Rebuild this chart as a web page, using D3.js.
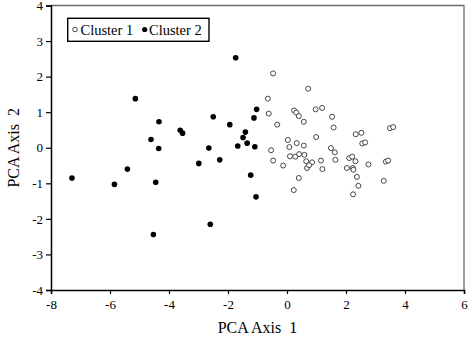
<!DOCTYPE html>
<html>
<head>
<meta charset="utf-8">
<script src="https://cdn.jsdelivr.net/npm/d3@7/dist/d3.min.js"></script>
<style>
  html, body { margin: 0; padding: 0; background: #fff; }
  svg { display: block; }
  text { font-family: "Liberation Serif", "Times New Roman", serif; fill: #000; }
</style>
</head>
<body>
<svg id="chart" width="474" height="348"></svg>
<script>
// PCA scores: [axis 1, axis 2]
const cluster1 = [
  [-0.47, 2.09], [0.72, 1.66], [-0.65, 1.38], [-0.62, 0.96], [-0.33, 0.65],
  [0.24, 1.05], [0.31, 0.99], [0.40, 0.89], [0.57, 0.73], [0.97, 1.08],
  [1.19, 1.12], [1.53, 0.87], [1.58, 0.57], [2.33, 0.38], [2.52, 0.42],
  [3.49, 0.55], [3.60, 0.58], [0.03, 0.22], [0.33, 0.13], [0.57, 0.06],
  [0.99, 0.30], [0.08, 0.02], [-0.54, -0.07], [-0.47, -0.36], [-0.13, -0.50],
  [0.10, -0.24], [0.28, -0.25], [0.41, -0.18], [0.59, -0.20], [0.65, -0.38],
  [0.85, -0.41], [0.68, -0.57], [0.75, -0.49], [1.15, -0.36], [1.20, -0.60],
  [0.40, -0.85], [0.23, -1.19], [2.55, 0.12], [2.65, 0.15], [1.49, -0.01],
  [1.62, -0.13], [1.64, -0.34], [2.11, -0.29], [2.21, -0.25], [2.32, -0.38],
  [2.03, -0.57], [2.23, -0.57], [2.25, -0.62], [2.76, -0.47], [3.35, -0.39],
  [3.43, -0.36], [2.37, -0.82], [2.42, -1.07], [2.24, -1.31], [3.28, -0.93]
];
const cluster2 = [
  [-7.29, -0.85], [-5.85, -1.03], [-5.41, -0.60], [-5.14, 1.38], [-4.61, 0.23],
  [-1.74, 2.53], [-4.34, 0.73], [-4.35, -0.02], [-3.62, 0.49], [-3.54, 0.41],
  [-2.50, 0.87], [-1.94, 0.65], [-1.03, 1.08], [-1.12, 0.84], [-1.41, 0.44],
  [-1.49, 0.29], [-1.35, 0.13], [-1.67, 0.05], [-1.09, 0.03], [-2.65, -0.01],
  [-2.28, -0.34], [-2.99, -0.44], [-1.23, -0.77], [-1.05, -1.38], [-4.45, -0.97],
  [-2.60, -2.15], [-4.53, -2.44]
];
const xTicks = [-8, -6, -4, -2, 0, 2, 4, 6];
const yTicks = [-4, -3, -2, -1, 0, 1, 2, 3, 4];
const seriesNames = ["Cluster 1", "Cluster 2"];
const xTitle = "PCA Axis  1";
const yTitle = "PCA Axis  2";

const svg = d3.select("#chart");
const m = { left: 51, right: 464, top: 5.5, bottom: 290 };

const x = d3.scaleLinear().domain([-8, 6]).range([m.left, m.right]);
const y = d3.scaleLinear().domain([-4, 4]).range([m.bottom, m.top]);

// frame: top and right edges
svg.append("path")
  .attr("d", `M${m.left},${m.top}H${m.right}V${m.bottom}`)
  .attr("fill", "none").attr("stroke", "#6a6a6a").attr("stroke-width", 1.3);

const xAxis = svg.append("g")
  .attr("transform", `translate(0,${m.bottom})`)
  .call(d3.axisBottom(x).tickValues(xTicks).tickSize(4).tickPadding(6)
    .tickFormat(d => d < 0 ? "-" + Math.abs(d) : d));
const yAxis = svg.append("g")
  .attr("transform", `translate(${m.left},0)`)
  .call(d3.axisLeft(y).tickValues(yTicks).tickSize(5).tickPadding(3)
    .tickFormat(d => d < 0 ? "-" + Math.abs(d) : d));

[xAxis, yAxis].forEach(g => {
  g.select(".domain").attr("stroke", "#000").attr("stroke-width", 1.5);
  g.selectAll(".tick line").attr("stroke", "#000").attr("stroke-width", 1.2);
  g.selectAll(".tick text")
    .style("font-family", '"Liberation Serif", "Times New Roman", serif')
    .style("font-size", "13px").attr("fill", "#000");
});

// points
svg.append("g").selectAll("circle").data(cluster1).join("circle")
  .attr("cx", d => x(d[0])).attr("cy", d => y(d[1])).attr("r", 2.5)
  .attr("fill", "#fff").attr("stroke", "#333").attr("stroke-width", 0.9);
svg.append("g").selectAll("circle").data(cluster2).join("circle")
  .attr("cx", d => x(d[0])).attr("cy", d => y(d[1])).attr("r", 2.8)
  .attr("fill", "#000");

// legend
const lg = svg.append("g");
lg.append("rect").attr("x", 67.7).attr("y", 18.3).attr("width", 141.3).attr("height", 23)
  .attr("fill", "#fff").attr("stroke", "#000").attr("stroke-width", 1.4);
lg.append("circle").attr("cx", 75).attr("cy", 29.5).attr("r", 2.3)
  .attr("fill", "#fff").attr("stroke", "#333").attr("stroke-width", 0.9);
lg.append("text").attr("x", 80.5).attr("y", 34.7).style("font-size", "14.5px").text(seriesNames[0]);
lg.append("circle").attr("cx", 144.7).attr("cy", 29.5).attr("r", 2.6).attr("fill", "#000");
lg.append("text").attr("x", 149).attr("y", 34.7).style("font-size", "14.5px").text(seriesNames[1]);

// axis titles
svg.append("text").attr("x", (m.left + m.right) / 2).attr("y", 333)
  .attr("text-anchor", "middle").style("font-size", "16px").style("white-space", "pre")
  .text(xTitle);
svg.append("text").attr("transform", `translate(18.5,${(m.top + m.bottom) / 2}) rotate(-90)`)
  .attr("text-anchor", "middle").style("font-size", "16px").style("white-space", "pre")
  .text(yTitle);
</script>
</body>
</html>
